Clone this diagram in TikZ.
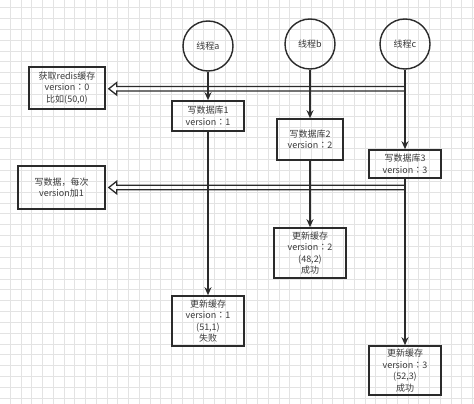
\documentclass[tikz,border=0pt]{standalone}
\usepackage{fontspec}
\setmainfont{Noto Sans CJK SC}
\newfontfamily\tcfont{Noto Sans CJK TC}
\newcommand\cln{{\tcfont ：}}
\usetikzlibrary{arrows.meta,calc}
\definecolor{ink}{HTML}{2B2B2B}
\definecolor{txt}{HTML}{3A3A3A}
\definecolor{gridc}{HTML}{E3E3E3}
\tikzset{
  thread/.style={circle,draw=ink,line width=1.4pt,minimum size=50pt,inner sep=0pt,font=\fontsize{9}{11}\selectfont,text=txt},
  box/.style={rectangle,draw=ink,line width=1.6pt,inner sep=1pt,align=center,font=\fontsize{9}{11.5}\selectfont,text=txt},
  arr/.style={draw=ink,line width=1.3pt,-{Stealth[length=8pt,width=7pt]}},
  dbl/.style={draw=ink,line width=1.3pt,line join=miter}
}
\newcommand\dblarrow[2]{%
  \draw[dbl] let \p1=(#1), \p2=(#2) in
    (\x1,\y1+2.25pt) -- (\x2+8pt,\y1+2.25pt) -- (\x2+8pt,\y1+6.3pt) -- (\x2,\y1)
    -- (\x2+8pt,\y1-6.3pt) -- (\x2+8pt,\y1-2.25pt) -- (\x1,\y1-2.25pt);}
\begin{document}
\begin{tikzpicture}[x=1pt,y=-1pt]
\useasboundingbox (0,0) rectangle (474,404);
\fill[white] (0,0) rectangle (474,404);
\foreach \i in {0,...,43} {\draw[gridc,line width=0.5pt] ({10+10.75*\i},0) -- ({10+10.75*\i},404);}
\foreach \i in {0,...,37} {\draw[gridc,line width=0.5pt] (0,{7.5+10.85*\i}) -- (474,{7.5+10.85*\i});}

\node[thread] (ta) at (208,46) {线程a};
\node[thread] (tb) at (310,44) {线程b};
\node[thread] (tc) at (405,44) {线程c};

\node[box,minimum width=76pt,minimum height=42pt] (g0) at (67,88) {获取redis缓存\\version\cln 0\\比如(50,0)};
\node[box,minimum width=87pt,minimum height=43pt] (n2) at (61.5,187.5) {写数据，每次\\version加1};
\node[box,minimum width=72pt,minimum height=30pt] (w1) at (208,116) {写数据库1\\version\cln 1};
\node[box,minimum width=66pt,minimum height=41pt] (w2) at (310,139.5) {写数据库2\\version\cln 2};
\node[box,minimum width=72pt,minimum height=28pt] (w3) at (405,164) {写数据库3\\version\cln 3};
\node[box,minimum width=72pt,minimum height=50pt] (u2) at (310,253) {更新缓存\\version\cln 2\\(48,2)\\成功};
\node[box,minimum width=72pt,minimum height=50pt] (u1) at (208,321) {更新缓存\\version\cln 1\\(51,1)\\失败};
\node[box,minimum width=72pt,minimum height=49pt] (u3) at (405,370.5) {更新缓存\\version\cln 3\\(52,3)\\成功};

\coordinate (s1) at (405,88.8);
\coordinate (e1) at ($(g0.east|-s1)+(3,0)$);
\coordinate (s2) at (405,187.5);
\coordinate (e2) at ($(n2.east|-s2)+(3,0)$);
\dblarrow{s1}{e1}
\dblarrow{s2}{e2}

\draw[arr] (ta) -- (w1);
\draw[arr] (w1) -- (u1);
\draw[arr] (tb) -- (w2);
\draw[arr] (w2) -- (u2);
\draw[arr] (tc) -- (w3);
\draw[arr] (w3) -- (u3);
\end{tikzpicture}
\end{document}
